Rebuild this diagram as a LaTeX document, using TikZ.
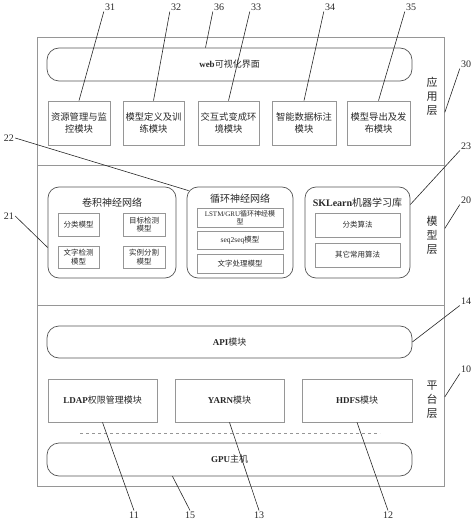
\documentclass[tikz,border=0pt]{standalone}
\usepackage{fontspec}
\setmainfont{Liberation Serif}
\newfontfamily\cjk{Noto Sans CJK SC}
\usetikzlibrary{calc}
\definecolor{boxgray}{RGB}{150,150,150}
\definecolor{rgray}{RGB}{85,85,85}
\definecolor{txt}{RGB}{40,40,40}
\begin{document}
\begin{tikzpicture}[x=1pt,y=-1pt,
  layer/.style={draw=boxgray, line width=0.8pt, rectangle, inner sep=0pt, anchor=north west},
  mod/.style={draw=boxgray, line width=0.7pt, rectangle, inner sep=1pt, align=center, text=txt, font=\cjk\fontsize{9.3}{11.5}\selectfont},
  small/.style={mod, font=\cjk\fontsize{7.5}{8.5}\selectfont},
  bar/.style={draw=rgray, line width=0.7pt, rectangle, rounded corners=12pt, text=txt, font=\fontsize{9}{10}\selectfont\bfseries},
  grp/.style={draw=rgray, line width=0.7pt, rectangle, rounded corners=11pt},
  gtitle/.style={text=txt, font=\fontsize{10}{11}\selectfont},
  vlab/.style={text=txt, align=center, font=\cjk\fontsize{11}{14}\selectfont},
  num/.style={text=txt, font=\fontsize{10}{11}\selectfont, inner sep=1pt},
  lead/.style={draw=black!85, line width=0.6pt}
]
\useasboundingbox (0,0) rectangle (474,521);
% layers
\node[layer, minimum width=407pt, minimum height=128pt] (applayer) at (37,37) {};
\node[layer, minimum width=407pt, minimum height=140pt] (modlayer) at (37,165) {};
\node[layer, minimum width=407pt, minimum height=181pt] (platlayer) at (37,305) {};
% layer labels
\node[vlab] (lab30) at (432,96) {应\\用\\层};
\node[vlab] (lab20) at (432,235) {模\\型\\层};
\node[vlab] (lab10) at (432,400) {平\\台\\层};
% application layer
\node[bar, minimum width=365pt, minimum height=33pt] (web) at (229.5,64.5) {web{\cjk\mdseries 可视化界面}};
\node[mod, minimum width=62pt, minimum height=44pt] (m31) at (79,123) {资源管理与监\\控模块};
\node[mod, minimum width=61pt, minimum height=44pt] (m32) at (153.5,123) {模型定义及训\\练模块};
\node[mod, minimum width=61pt, minimum height=44pt] (m33) at (228.5,123) {交互式变成环\\境模块};
\node[mod, minimum width=64pt, minimum height=44pt] (m34) at (304,123) {智能数据标注\\模块};
\node[mod, minimum width=63pt, minimum height=44pt] (m35) at (378.5,123) {模型导出及发\\布模块};
% model layer
\node[grp, minimum width=128pt, minimum height=91pt] (cnn) at (112,232.5) {};
\node[gtitle] (cnnt) at (112,203) {\cjk 卷积神经网络};
\node[small, minimum width=41pt, minimum height=23pt] (c1) at (78.5,224.5) {分类模型};
\node[small, minimum width=42pt, minimum height=23pt] (c2) at (144,224.5) {目标检测\\模型};
\node[small, minimum width=41pt, minimum height=22pt] (c3) at (78.5,257) {文字检测\\模型};
\node[small, minimum width=42pt, minimum height=22pt] (c4) at (144,257) {实例分割\\模型};
\node[grp, minimum width=106pt, minimum height=91pt] (rnn) at (240,232.5) {};
\node[gtitle] (rnnt) at (240,199) {\cjk 循环神经网络};
\node[small, minimum width=86pt, minimum height=19pt, font=\cjk\fontsize{7}{7.5}\selectfont] (r1) at (240,217.5) {{\rmfamily LSTM/GRU}循环神经模\\型};
\node[small, minimum width=86pt, minimum height=18pt] (r2) at (240,240) {{\rmfamily seq2seq}模型};
\node[small, minimum width=86pt, minimum height=19pt] (r3) at (240,263.5) {文字处理模型};
\node[grp, minimum width=105pt, minimum height=91pt] (sk) at (357.5,232.5) {};
\node[gtitle] (skt) at (357.5,203) {\bfseries SKLearn{\cjk\mdseries 机器学习库}};
\node[small, minimum width=85pt, minimum height=24pt] (s1) at (357.5,225) {分类算法};
\node[small, minimum width=85pt, minimum height=24pt] (s2) at (357.5,255) {其它常用算法};
% platform layer
\node[bar, minimum width=365pt, minimum height=32pt] (api) at (229.5,342) {API{\cjk\mdseries 模块}};
\node[mod, minimum width=109pt, minimum height=43pt, font=\fontsize{9}{10}\selectfont\bfseries] (ldap) at (102.5,400.5) {LDAP{\cjk\mdseries 权限管理模块}};
\node[mod, minimum width=109pt, minimum height=43pt, font=\fontsize{9}{10}\selectfont\bfseries] (yarn) at (229.5,400.5) {YARN{\cjk\mdseries 模块}};
\node[mod, minimum width=110pt, minimum height=43pt, font=\fontsize{9}{10}\selectfont\bfseries] (hdfs) at (357,400.5) {HDFS{\cjk\mdseries 模块}};
\coordinate (dashL) at (80,433);
\coordinate (dashR) at (380,433);
\draw[boxgray, dashed, line width=0.7pt] (dashL) -- (dashR);
\node[bar, minimum width=365pt, minimum height=33pt] (gpu) at (229.5,459.5) {GPU{\cjk\mdseries 主机}};
% number labels
\node[num] (l31) at (110,7) {31};
\node[num] (l32) at (176,7) {32};
\node[num] (l36) at (219,7) {36};
\node[num] (l33) at (256,7) {33};
\node[num] (l34) at (330,7) {34};
\node[num] (l35) at (411,7) {35};
\node[num] (l30) at (466,64) {30};
\node[num] (l22) at (9,138) {22};
\node[num] (l23) at (466,146) {23};
\node[num] (l20) at (466,200) {20};
\node[num] (l21) at (9,216) {21};
\node[num] (l14) at (466,301) {14};
\node[num] (l10) at (466,369) {10};
\node[num] (l11) at (134,515) {11};
\node[num] (l15) at (190,515) {15};
\node[num] (l13) at (259,515) {13};
\node[num] (l12) at (388,515) {12};
% leaders
\draw[lead] (l31.south west) -- (m31.north);
\draw[lead] (l32.south west) -- (m32.north);
\draw[lead] (l36.south west) -- ([xshift=-24pt]web.north);
\draw[lead] (l33.south west) -- (m33.north);
\draw[lead] (l34.south west) -- (m34.north);
\draw[lead] (l35.south west) -- (m35.north);
\draw[lead] (l30.south west) -- ([yshift=-11pt]applayer.east);
\draw[lead] (l22.east) -- ([xshift=2pt,yshift=-4pt]rnn.north west);
\draw[lead] (l23.south west) -- ([yshift=28pt]sk.east);
\draw[lead] (l20.south west) -- ([yshift=7pt]modlayer.east);
\draw[lead] (l21.east) -- ([yshift=-15pt]cnn.west);
\draw[lead] (l14.south west) -- (api.east);
\draw[lead] (l10.south west) -- ([yshift=-1pt]platlayer.east);
\draw[lead] (l11.north) -- (ldap.south);
\draw[lead] (l15.north) -- ([xshift=-57pt]gpu.south);
\draw[lead] (l13.north) -- (yarn.south);
\draw[lead] (l12.north) -- (hdfs.south);
\end{tikzpicture}
\end{document}
